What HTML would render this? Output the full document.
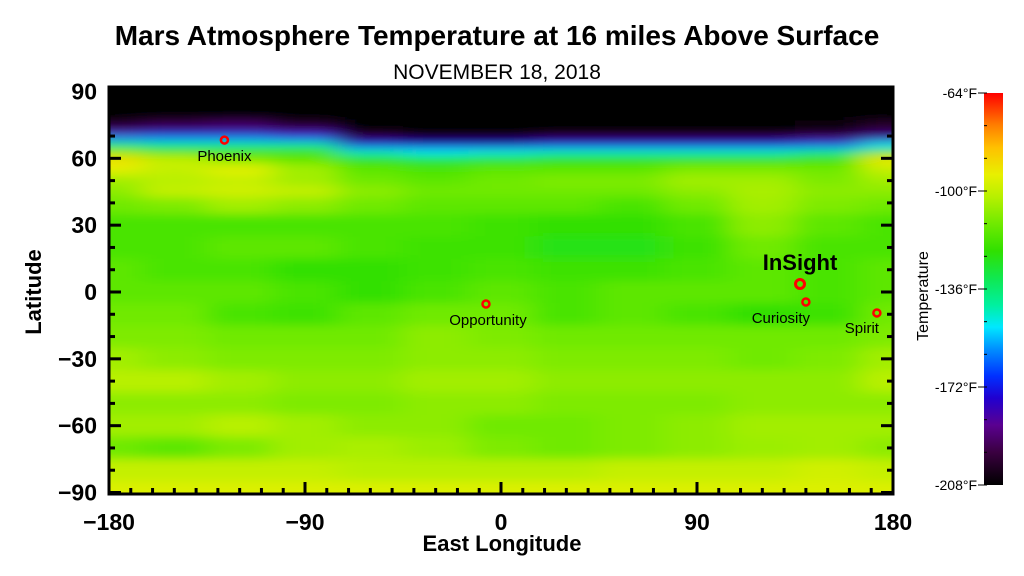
<!DOCTYPE html>
<html><head><meta charset="utf-8"><style>
html,body{margin:0;padding:0;background:#fff;}
svg{display:block;font-family:"Liberation Sans",Arial,sans-serif;}
</style></head><body>
<svg id="chart" width="1024" height="576" viewBox="0 0 1024 576" xmlns="http://www.w3.org/2000/svg">
<defs>
<clipPath id="plotClip"><rect x="109" y="87" width="784" height="407"/></clipPath>
<filter id="blur" x="-10%" y="-10%" width="120%" height="120%" filterUnits="objectBoundingBox"><feGaussianBlur stdDeviation="14 5"/></filter>
<linearGradient id="cbGrad" x1="0" y1="1" x2="0" y2="0"></linearGradient>
</defs>
<text x="497" y="45" text-anchor="middle" font-size="28" font-weight="bold">Mars Atmosphere Temperature at 16 miles Above Surface</text>
<text x="497" y="79" text-anchor="middle" font-size="21">NOVEMBER 18, 2018</text>
<g clip-path="url(#plotClip)"><g id="heat" filter="url(#blur)"></g></g>
<g id="axes"></g>
<g id="markers"></g>
<text transform="translate(41,292) rotate(-90)" text-anchor="middle" font-size="22" font-weight="bold">Latitude</text>
<text x="502" y="551" text-anchor="middle" font-size="22" font-weight="bold">East Longitude</text>
<rect x="984" y="93" width="19" height="392" fill="url(#cbGrad)"/>
<g id="cbticks"></g>
<text transform="translate(928,296) rotate(-90)" text-anchor="middle" font-size="16">Temperature</text>
</svg>
<script>
const lons=[-180,-150,-120,-90,-60,-30,0,30,60,90,120,150,180];
const lats=[95,80,74,72,69,66,63,60,55,50,45,40,30,20,10,0,-10,-20,-30,-40,-50,-60,-70,-80,-90,-95];
const temps=[
[-208,-208,-208,-208,-208,-208,-208,-208,-208,-208,-208,-208,-208],
[-208,-208,-208,-208,-208,-208,-208,-208,-208,-208,-208,-208,-208],
[-200,-195,-192,-200,-208,-208,-208,-208,-208,-208,-208,-205,-200],
[-185,-180,-180,-185,-205,-208,-208,-208,-208,-208,-208,-205,-195],
[-160,-160,-160,-165,-195,-200,-200,-195,-195,-195,-195,-190,-180],
[-135,-140,-140,-140,-170,-175,-175,-170,-170,-170,-170,-165,-150],
[-110,-120,-120,-120,-145,-150,-148,-145,-145,-145,-145,-140,-120],
[-90,-100,-110,-115,-125,-130,-128,-125,-125,-125,-125,-120,-92],
[-95,-100,-95,-105,-115,-118,-115,-115,-115,-110,-110,-112,-100],
[-105,-102,-100,-105,-112,-115,-112,-110,-110,-105,-105,-110,-105],
[-108,-100,-98,-100,-108,-112,-112,-112,-112,-108,-104,-108,-108],
[-112,-110,-105,-108,-112,-115,-115,-115,-118,-112,-105,-110,-112],
[-118,-118,-118,-118,-118,-118,-120,-122,-122,-118,-108,-115,-118],
[-118,-118,-115,-115,-118,-120,-120,-125,-125,-120,-112,-118,-118],
[-115,-118,-118,-122,-122,-120,-118,-120,-120,-118,-115,-118,-115],
[-115,-115,-115,-118,-122,-118,-115,-118,-115,-115,-115,-118,-115],
[-112,-112,-118,-120,-115,-112,-112,-118,-115,-118,-122,-120,-112],
[-110,-110,-112,-112,-112,-108,-110,-112,-112,-112,-112,-112,-110],
[-105,-108,-110,-110,-110,-108,-108,-110,-110,-110,-112,-110,-105],
[-102,-102,-105,-108,-108,-105,-105,-108,-108,-108,-108,-108,-102],
[-108,-108,-108,-110,-110,-108,-108,-110,-110,-110,-108,-108,-108],
[-105,-105,-102,-105,-108,-108,-112,-112,-110,-108,-105,-105,-105],
[-112,-115,-110,-105,-104,-106,-110,-112,-110,-108,-106,-105,-108],
[-100,-100,-100,-100,-102,-102,-102,-102,-100,-100,-100,-98,-100],
[-96,-96,-96,-96,-96,-96,-96,-96,-96,-96,-96,-96,-96],
[-96,-96,-96,-96,-96,-96,-96,-96,-96,-96,-96,-96,-96]];
const xTicks=[-180,-90,0,90,180];
const yTicks=[90,60,30,0,-30,-60,-90];
const cbTicks=[-64,-100,-136,-172,-208];
const siteNames=["Phoenix","Opportunity","InSight","Curiosity","Spirit"];
const siteLons=[-127,-6.9,137.3,140,172.6];
const siteLats=[68.2,-5.4,3.6,-4.5,-9.4];

const NS="http://www.w3.org/2000/svg";
const X=l=>109+(l+180)*784/360;
const Y=l=>292-l*401/180;
const CBY=t=>485-(t+208)*392/144;
const stops=[[-208,"#000000"],[-196,"#3a0040"],[-186,"#5a0090"],[-176,"#2000d0"],[-168,"#0030ff"],[-158,"#0090ff"],[-150,"#00e8ff"],[-142,"#00f0a0"],[-132,"#10e850"],[-122,"#30e000"],[-112,"#70ea00"],[-102,"#b8f000"],[-94,"#e8f000"],[-84,"#ffc000"],[-76,"#ff8000"],[-64,"#ff0000"]];
function hex(h){return [1,3,5].map(i=>parseInt(h.substr(i,2),16));}
function cmap(t){
  if(t<=stops[0][0])return stops[0][1];
  for(let i=1;i<stops.length;i++){
    if(t<=stops[i][0]){const a=hex(stops[i-1][1]),b=hex(stops[i][1]);const f=(t-stops[i-1][0])/(stops[i][0]-stops[i-1][0]);
      return "rgb("+a.map((v,k)=>Math.round(v+(b[k]-v)*f)).join(",")+")";}
  }
  return stops[stops.length-1][1];
}
function mk(tag,attrs,parent){const e=document.createElementNS(NS,tag);for(const k in attrs)e.setAttribute(k,attrs[k]);parent.appendChild(e);return e;}
const heat=document.getElementById("heat");
for(let r=0;r<lats.length;r++){
  const top=r===0?lats[0]+10:(lats[r-1]+lats[r])/2;
  const bot=r===lats.length-1?lats[r]-10:(lats[r]+lats[r+1])/2;
  for(let c=0;c<lons.length;c++){
    const x0=X(lons[c]-15-(c===0?25:0)),x1=X(lons[c]+15+(c===lons.length-1?25:0));
    const cell=mk("rect",{x:x0,y:Y(top),width:x1-x0+0.5,height:Y(bot)-Y(top)+0.5,fill:cmap(temps[r][c])},heat);
    
    
  }
}
const g=document.getElementById("cbGrad");
stops.forEach(s=>mk("stop",{offset:((s[0]+208)/144),"stop-color":s[1]},g));
const axes=document.getElementById("axes");
const frame=mk("rect",{x:109,y:87,width:784,height:407,fill:"none",stroke:"#000","stroke-width":3},axes);


for(let l=-180;l<=180;l+=10){const maj=l%90===0;mk("line",{x1:X(l),x2:X(l),y1:494,y2:maj?482:488,stroke:"#000","stroke-width":3},axes);}
for(let l=-90;l<=90;l+=10){const maj=l%30===0;const L=maj?12:6;
  mk("line",{x1:109,x2:109+L,y1:Y(l),y2:Y(l),stroke:"#000","stroke-width":3},axes);
  mk("line",{x1:893,x2:893-L,y1:Y(l),y2:Y(l),stroke:"#000","stroke-width":3},axes);}
xTicks.forEach(v=>{const t=mk("text",{x:X(v),y:530,"text-anchor":"middle","font-size":23,"font-weight":"bold"},axes);t.textContent=(v<0?"\u2212":"")+Math.abs(v);
  
  });
yTicks.forEach(v=>{const t=mk("text",{x:97,y:Y(v)+8,"text-anchor":"end","font-size":23,"font-weight":"bold"},axes);t.textContent=(v<0?"\u2212":"")+Math.abs(v);
  
  });
const cb=document.getElementById("cbticks");
for(let t=-208;t<=-64;t+=12){mk("line",{x1:984,x2:987,y1:CBY(t),y2:CBY(t),stroke:"#000","stroke-width":1},cb);}
cbTicks.forEach(v=>{mk("line",{x1:978,x2:984,y1:CBY(v),y2:CBY(v),stroke:"#000","stroke-width":1},cb);
  const t=mk("text",{x:977,y:CBY(v)+5,"text-anchor":"end","font-size":14},cb);t.textContent=v+"\u00B0F";
  
  });
const mg=document.getElementById("markers");
const labelOff=[[0,21,15,false],[2,21,15,false],[0,-14,22,true],[-25,21,15,false],[-15,20,15,false]];
siteNames.forEach((n,i)=>{const cx=X(siteLons[i]),cy=Y(siteLats[i]);const big=n==="InSight";
  const c=mk("circle",{cx:cx,cy:cy,r:big?4.5:3.5,fill:"none",stroke:"#ff0000","stroke-width":big?3:2.5},mg);
  
  
  const o=labelOff[i];
  const t=mk("text",{x:cx+o[0],y:cy+o[1],"text-anchor":"middle","font-size":o[2],"font-weight":o[3]?"bold":"normal"},mg);t.textContent=n;
  
  });
</script>
</body></html>
